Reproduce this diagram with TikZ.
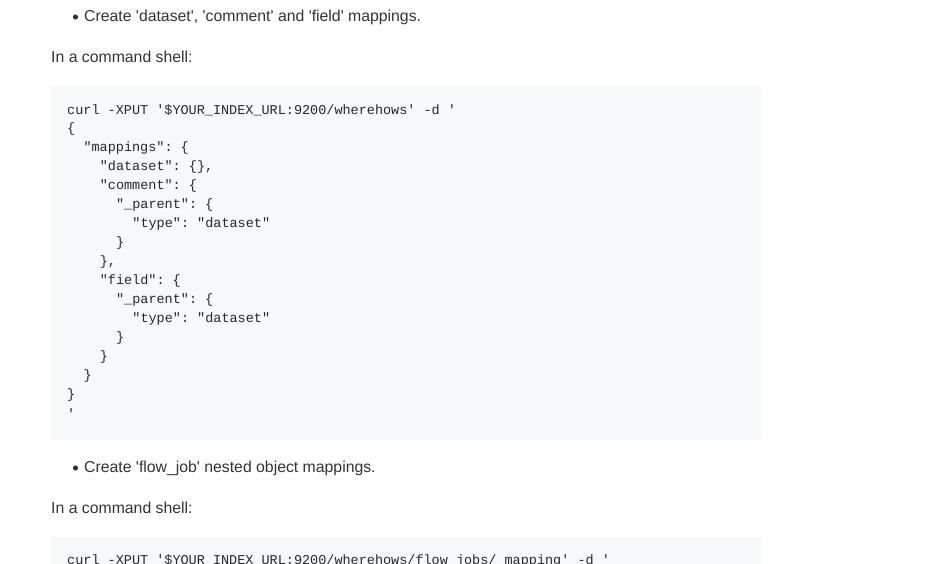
\documentclass[tikz,border=0pt]{standalone}
\usepackage{fontspec}
\setmainfont{Liberation Sans}
\setmonofont{Liberation Mono}
\usetikzlibrary{positioning}
\definecolor{bodytext}{HTML}{333333}
\definecolor{codebg}{HTML}{F6F8FA}
\definecolor{codetext}{HTML}{24292E}
\tikzset{
  para/.style={anchor=west, inner sep=0pt, text=bodytext, font=\fontsize{15.8}{19}\selectfont},
  codeline/.style={anchor=west, inner sep=0pt, text=codetext, font=\ttfamily\fontsize{13.5}{16}\selectfont},
  codebox/.style={fill=codebg, draw=none}
}
\newcommand\codeln[3]{\node[codeline] (l#1) at ({67+8.15*#2},{110+19*#1}) {#3};}
\newcommand\sq{\textquotesingle}
\begin{document}
\begin{tikzpicture}[x=1pt,y=-1pt]
  \useasboundingbox (0,0) rectangle (929,563);
  \clip (0,0) rectangle (929,563);

  % first item
  \fill[bodytext] (75.5,17) circle (2.6);
  \node[para] (item1) at (84,17) {Create \sq dataset\sq, \sq comment\sq{} and \sq field\sq{} mappings.};
  \node[para] (shell1) at (51,57) {In a command shell:};

  % first code block
  \fill[codebox] (51,86) rectangle (761,440);
  \codeln{0}{0}{curl -XPUT '\$YOUR\_INDEX\_URL:9200/wherehows' -d '}
  \codeln{1}{0}{\{}
  \codeln{2}{2}{"mappings": \{}
  \codeln{3}{4}{"dataset": \{\},}
  \codeln{4}{4}{"comment": \{}
  \codeln{5}{6}{"\_parent": \{}
  \codeln{6}{8}{"type": "dataset"}
  \codeln{7}{6}{\}}
  \codeln{8}{4}{\},}
  \codeln{9}{4}{"field": \{}
  \codeln{10}{6}{"\_parent": \{}
  \codeln{11}{8}{"type": "dataset"}
  \codeln{12}{6}{\}}
  \codeln{13}{4}{\}}
  \codeln{14}{2}{\}}
  \codeln{15}{0}{\}}
  \codeln{16}{0}{'}

  % second item
  \fill[bodytext] (75.5,468) circle (2.6);
  \node[para] (item2) at (84,468) {Create \sq flow\_job\sq{} nested object mappings.};
  \node[para] (shell2) at (51,508) {In a command shell:};

  % second code block (cut off)
  \fill[codebox] (51,537) rectangle (761,600);
  \node[codeline] (m0) at (67,561) {curl -XPUT '\$YOUR\_INDEX\_URL:9200/wherehows/flow\_jobs/\_mapping' -d '};
\end{tikzpicture}
\end{document}
